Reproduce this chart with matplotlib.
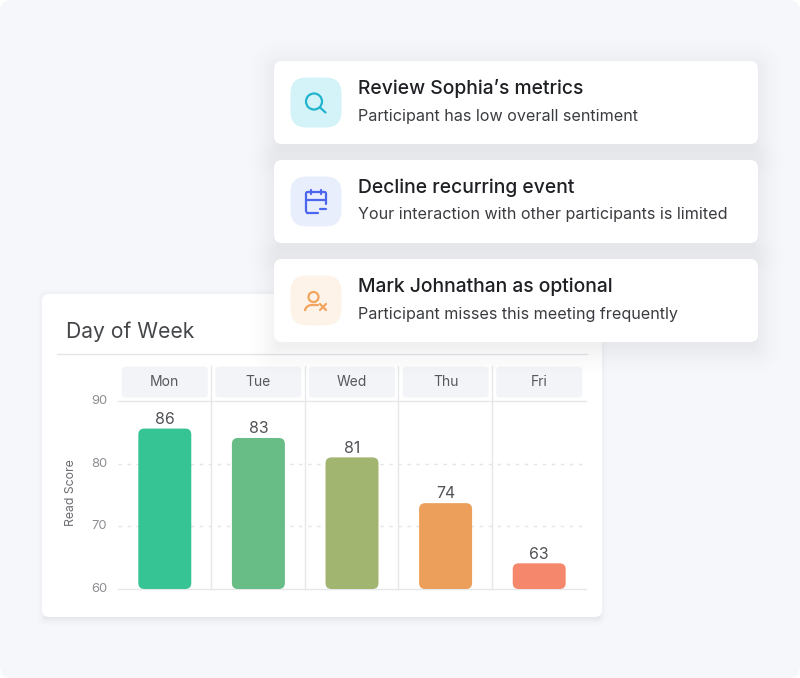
import numpy as np
import matplotlib
matplotlib.use("Agg")
import matplotlib.pyplot as plt
from matplotlib.patches import FancyBboxPatch, Circle, Arc
from matplotlib.lines import Line2D

plt.rcParams['font.family'] = ['Inter', 'DejaVu Sans']

days = ["Mon", "Tue", "Wed", "Thu", "Fri"]
score_labels = [86, 83, 81, 74, 63]
bar_heights = [85.6, 84.1, 81.0, 73.7, 64.1]
bar_colors = ["#37C495", "#68BC85", "#A1B570", "#EC9F5A", "#F5876D"]
y_ticks = [60, 70, 80, 90]
card_titles = ["Review Sophia’s metrics", "Decline recurring event", "Mark Johnathan as optional"]
card_subtitles = ["Participant has low overall sentiment",
                  "Your interaction with other participants is limited",
                  "Participant misses this meeting frequently"]
card_tops = [61, 160, 259]
chip_colors = ["#D3F3F8", "#E9EEFD", "#FDF3E8"]
icon_colors = ["#20B4CE", "#4A66EE", "#F2A55E"]

W, H = 800, 678
fig = plt.figure(figsize=(W / 100, H / 100), dpi=100, facecolor="white")

bg = fig.add_axes([0, 0, 1, 1], zorder=0)
bg.set_xlim(0, W); bg.set_ylim(H, 0); bg.axis("off")

def rbox(ax, x, y, w, h, r, fc, ec="none", lw=0, alpha=None, z=1):
    p = FancyBboxPatch((x, y), w, h, boxstyle=f"round,pad=0,rounding_size={r}",
                       fc=fc, ec=ec, lw=lw, alpha=alpha, zorder=z)
    ax.add_patch(p)
    return p

def soft_shadow(ax, boxes, spread, strength, z):
    """Smooth drop shadow drawn as an RGBA image over the whole picture."""
    yy, xx = np.mgrid[0:H, 0:W] + 0.5
    keep = np.ones((H, W))
    for x, y, w, h in boxes:
        dx = np.maximum(np.maximum(x - xx, xx - (x + w)), 0)
        dy = np.maximum(np.maximum(y - yy, yy - (y + h)), 0)
        d = np.hypot(dx, dy)
        keep *= 1 - strength * np.clip(1 - d / spread, 0, 1) ** 2
    rgba = np.zeros((H, W, 4))
    rgba[..., :3] = (0.30, 0.31, 0.38)
    rgba[..., 3] = 1 - keep
    ax.imshow(rgba, extent=(0, W, H, 0), aspect="auto", interpolation="nearest", zorder=z)
    ax.set_xlim(0, W); ax.set_ylim(H, 0)

# page panel with rounded corners
rbox(bg, 0, 0, W, H, 12, "#F6F7FA", z=0)

# chart card
soft_shadow(bg, [(46, 298, 552, 319)], 11, 0.11, 1)
rbox(bg, 42, 294, 560, 323, 7, "white", z=2)
bg.text(65.5, 332, "Day of Week", fontsize=15.2, color="#444649", va="center", ha="left", zorder=3)
bg.add_line(Line2D([57, 587], [354, 354], color="#E4E5E8", lw=1, zorder=3))

# header chips
col_w = 93.6
for i, d in enumerate(days):
    cx = 164.8 + i * col_w
    rbox(bg, cx - 43, 366.5, 86, 31, 4, "#F3F4F8", z=3)
    bg.text(cx, 382.5, d, fontsize=10, color="#56585C", ha="center", va="center", zorder=4)
bg.text(70.5, 492.5, "Read Score", fontsize=8.8, color="#6A6C70", rotation=90, ha="center", va="center", zorder=4)

# chart axes
left, right, y60, y90 = 118, 586, 589, 401
ax = fig.add_axes([left / W, 1 - y60 / H, (right - left) / W, (y60 - y90) / H], zorder=1)
ax.patch.set_alpha(0)
ax.set_xlim(-0.5, 4.5); ax.set_ylim(60, 90)
for s in ax.spines.values():
    s.set_visible(False)
ax.set_xticks([])
ax.set_yticks(y_ticks)
ax.tick_params(axis="y", length=0, pad=8, labelsize=9.4, labelcolor="#8C8E92")
for lbl in ax.get_yticklabels():
    lbl.set_verticalalignment("center")
for v in y_ticks:
    if v in (60, 90):
        ax.axhline(v, color="#E6E7EA", lw=1, zorder=1, clip_on=False)
    else:
        ax.axhline(v, color="#E4E5E8", lw=1, ls=(0, (2.5, 4)), zorder=1)
for i in range(1, len(days)):
    ax.plot([i - 0.505, i - 0.505], [60, 95.6], color="#E6E7EA", lw=1, zorder=1, clip_on=False)

px_x = 1 / col_w
px_y = 30 / (y60 - y90)
bars = ax.bar(range(len(days)), [h - 60 for h in bar_heights], bottom=60, width=0.566, color="none")
for rect, col in zip(bars, bar_colors):
    ax.add_patch(FancyBboxPatch((rect.get_x(), rect.get_y()), rect.get_width(), rect.get_height(),
                                boxstyle=f"round,pad=0,rounding_size={6 * px_x}",
                                mutation_aspect=px_y / px_x, fc=col, ec="none", zorder=3))
for i, (h, lab) in enumerate(zip(bar_heights, score_labels)):
    ax.annotate(str(lab), (i, h), xytext=(0, 1.2), textcoords="offset points", ha="center", va="bottom",
                fontsize=11.4, color="#505256", zorder=4)

# cards above the chart
fg = fig.add_axes([0, 0, 1, 1], zorder=2)
fg.set_xlim(0, W); fg.set_ylim(H, 0); fg.axis("off"); fg.patch.set_alpha(0)

soft_shadow(fg, [(278, t + 8, 476, 79) for t in card_tops], 36, 0.085, 1)
for top, title, sub, chip in zip(card_tops, card_titles, card_subtitles, chip_colors):
    rbox(fg, 274, top, 484, 83, 8, "white", z=2)
    rbox(fg, 290.5, top + 16.5, 51, 50, 16, chip, z=3)
    fg.text(357.5, top + 28, title, fontsize=13.9, fontweight="medium", color="#1E2024", va="center", ha="left", zorder=4)
    fg.text(357.5, top + 55, sub, fontsize=11.6, color="#3A3C40", va="center", ha="left", zorder=4)

# icons
c = icon_colors[0]
fg.add_patch(Circle((314, 101.5), 8, fc="none", ec=c, lw=1.6, zorder=5))
fg.add_line(Line2D([320, 325.5], [107.5, 112.5], color=c, lw=1.6, solid_capstyle="round", zorder=5))

c = icon_colors[1]
cal = dict(color=c, lw=1.6, solid_capstyle="round", zorder=5)
fg.add_line(Line2D([326, 326, 325, 307, 306, 306, 307, 318], [204, 193, 192, 192, 193, 211, 213, 213], **cal))
fg.add_line(Line2D([306, 326], [199.5, 199.5], **cal))
fg.add_line(Line2D([311, 311], [190, 194], **cal))
fg.add_line(Line2D([321, 321], [190, 194], **cal))
fg.add_line(Line2D([320, 326], [208.5, 208.5], **cal))

c = icon_colors[2]
usr = dict(color=c, lw=1.6, solid_capstyle="round", zorder=5)
fg.add_patch(Circle((313.5, 297), 5, fc="none", ec=c, lw=1.6, zorder=5))
fg.add_patch(Arc((312, 311), 14, 12, theta1=180, theta2=275, ec=c, lw=1.6, zorder=5))
fg.add_line(Line2D([312, 318], [305, 305], **usr))
fg.add_line(Line2D([320, 326], [304, 310], **usr))
fg.add_line(Line2D([326, 320], [304, 310], **usr))

fig.savefig("out.png", dpi=100, facecolor=fig.get_facecolor())
